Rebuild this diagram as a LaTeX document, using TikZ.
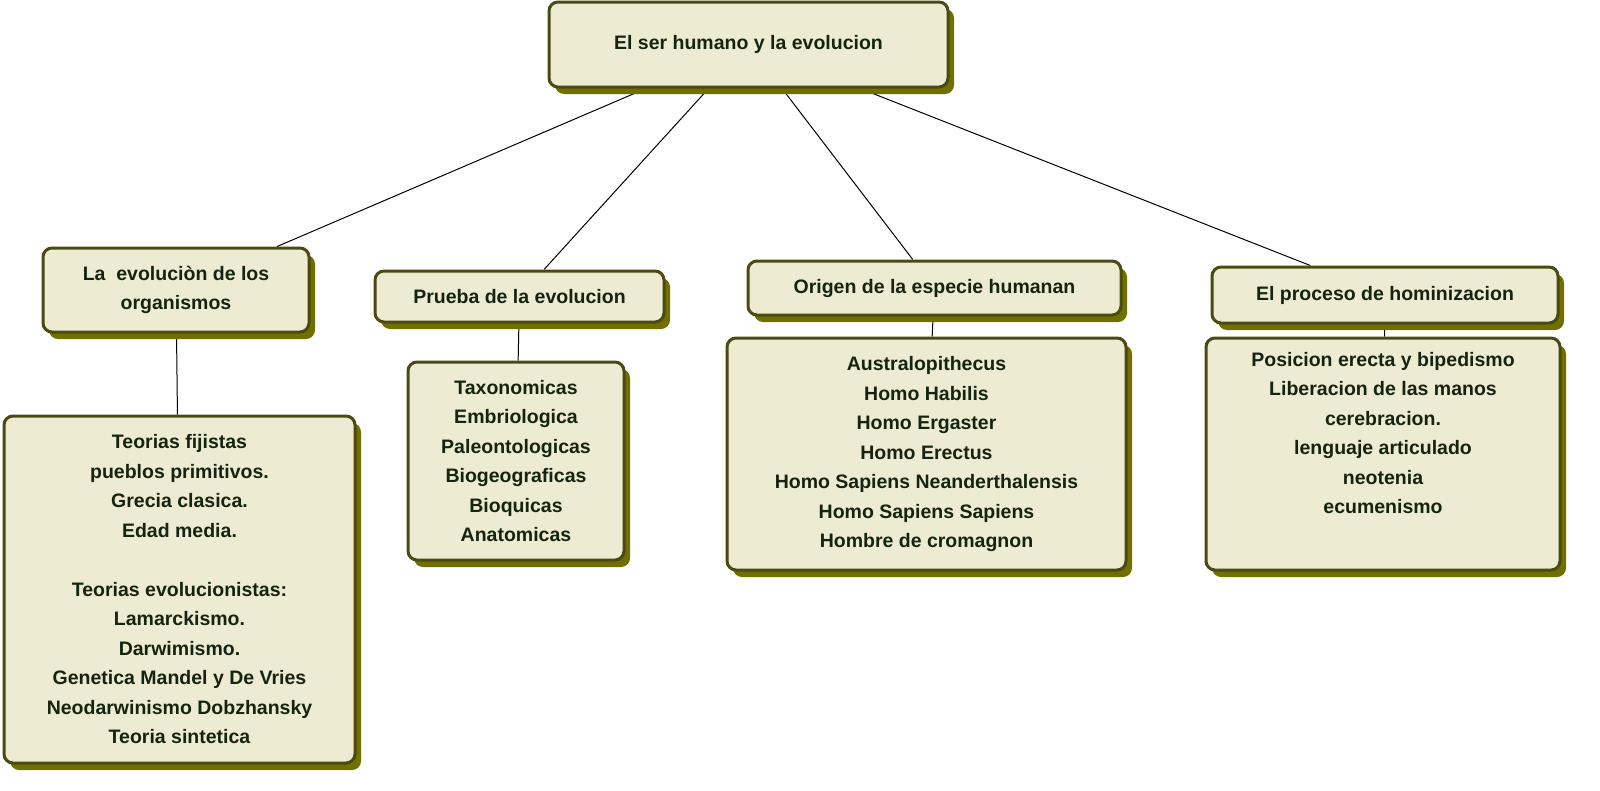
\documentclass[tikz,border=0pt]{standalone}
\usepackage{fontspec}
\setmainfont{Liberation Sans}
\usetikzlibrary{shadows,backgrounds}
\definecolor{boxfill}{HTML}{EDEBD2}
\definecolor{boxline}{HTML}{4A4A12}
\definecolor{shad}{HTML}{707000}
\definecolor{txt}{HTML}{142410}
\tikzset{
  cbox/.style={draw=boxline, line width=3pt, fill=boxfill, rounded corners=9pt,
    drop shadow={shadow xshift=6pt, shadow yshift=-7pt, fill=shad, opacity=1},
    font=\fontsize{19.5}{29.5}\selectfont\bfseries, text=txt, align=center, inner sep=0pt},
  link/.style={draw=black, line width=1pt}
}
\newcommand{\bx}[6]{\node[cbox, minimum width=#3pt-#2pt, minimum height=#5pt-#4pt] (#1) at ({(#2+#3)/2},{(#4+#5)/2}) {#6};}
\begin{document}
\begin{tikzpicture}[x=1pt,y=-1pt]
\bx{root}{549}{948}{2}{87}{El ser humano y la evolucion}
\bx{A}{43}{309}{248}{332}{La \ evoluciòn de los\\organismos}
\bx{B}{375}{664}{271}{322}{Prueba de la evolucion}
\bx{C}{748}{1121}{261}{315}{Origen de la especie humanan}
\bx{D}{1212}{1558}{267}{323}{El proceso de hominizacion}
\bx{A2}{4}{355}{416}{763}{Teorias fijistas\\pueblos primitivos.\\Grecia clasica.\\Edad media.\\[29.5pt]Teorias evolucionistas:\\Lamarckismo.\\Darwimismo.\\Genetica Mandel y De Vries\\Neodarwinismo Dobzhansky\\Teoria sintetica}
\bx{B2}{408}{624}{362}{560}{Taxonomicas\\Embriologica\\Paleontologicas\\Biogeograficas\\Bioquicas\\Anatomicas}
\bx{C2}{727}{1126}{338}{570}{Australopithecus\\Homo Habilis\\Homo Ergaster\\Homo Erectus\\Homo Sapiens Neanderthalensis\\Homo Sapiens Sapiens\\Hombre de cromagnon}
\node[cbox, minimum width=354pt, minimum height=232pt] (D2) at (1383,454) {};
\node[font=\fontsize{19.5}{29.5}\selectfont\bfseries, text=txt, align=center, anchor=north, inner sep=0pt] (D2t) at (1383,352) {Posicion erecta y bipedismo\\Liberacion de las manos\\cerebracion.\\lenguaje articulado\\neotenia\\ecumenismo};
\begin{pgfonlayer}{background}
\draw[link] (root) -- (A);
\draw[link] (root) -- (B);
\draw[link] (root) -- (C);
\draw[link] (root) -- (D);
\draw[link] (A) -- (A2);
\draw[link] (B) -- (B2);
\draw[link] (C) -- (C2);
\draw[link] (D) -- (D2);
\end{pgfonlayer}
\pgfresetboundingbox
\useasboundingbox (0,0) rectangle (1600,790);
\end{tikzpicture}
\end{document}
